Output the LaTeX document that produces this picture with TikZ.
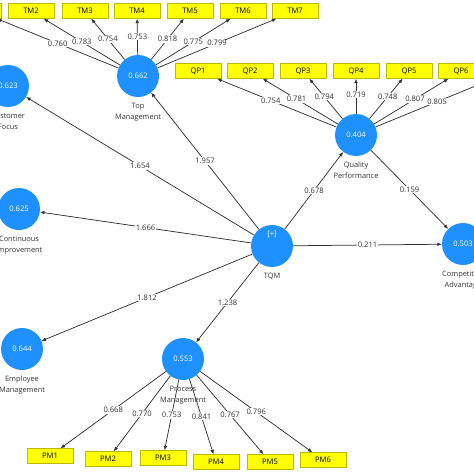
\documentclass[tikz,border=0pt]{standalone}
\usepackage{fontspec}
\setmainfont{Open Sans}
\usepackage{xcolor}
\usepackage{tikz}
\usetikzlibrary{arrows.meta}

\definecolor{plsblue}{RGB}{30,144,255}
\definecolor{plsyellow}{RGB}{255,255,0}
\definecolor{plsborder}{RGB}{185,185,0}
\definecolor{plsgray}{RGB}{50,50,50}

\tikzset{
  construct/.style = {circle, fill = plsblue, minimum size = 42pt,
    inner sep = 0pt, text = white, font = \fontsize{7.6}{8}\selectfont},
  conname/.style = {align = center, text = plsgray,
    font = \fontsize{7.4}{11}\selectfont},
  indicator/.style = {rectangle, draw = plsborder, fill = plsyellow,
    minimum width = 46pt, minimum height = 15pt, inner sep = 0pt,
    font = \fontsize{7.6}{9}\selectfont},
  relation/.style = {draw = plsgray, line width = 0.75pt,
    -{Latex[length = 4.5pt, width = 3.8pt]}},
  coef/.style = {fill = white, inner sep = 0.8pt, text = plsgray,
    font = \fontsize{7.6}{8}\selectfont}
}

\begin{document}
\begin{tikzpicture}[x = 1pt, y = -1pt, label distance = 2pt]
  \useasboundingbox (0,0) rectangle (474,474);
  \clip (0,0) rectangle (474,474);

  \node[construct, label = {[conname]below:{Top\\Management}}] (tm) at (138,76) {0.662};
  \node[construct, label = {[conname]below:{Customer\\Focus}}] (cf) at (8,86) {0.623};
  \node[construct, label = {[conname]below:{Continuous\\Improvement}}] (ci) at (19,209) {0.625};
  \node[construct, label = {[conname]below:{Employee\\Management}}] (em) at (22,349) {0.644};
  \node[construct, label = {[conname]below:{Process\\Management}}] (pm) at (183,359) {0.553};
  \node[construct, label = {[conname]below:{Quality\\Performance}}] (qp) at (356,135) {0.404};
  \node[construct, label = {[conname]below:{Competitive\\Advantage}}] (ca) at (463,244) {0.503};
  \node[construct, label = {[conname]below:TQM},
    label = {[coef, fill = none, text = white, yshift = 12pt]center:{[+]}}] (tqm) at (272,246) {};

  \foreach \i/\x in {1/-22, 2/31, 3/85, 4/137, 5/190, 6/243, 7/295}
    \node[indicator] (tm\i) at (\x,11) {TM\i};
  \foreach \i/\x in {1/198, 2/250, 3/303, 4/356, 5/409, 6/461}
    \node[indicator] (qp\i) at (\x,71) {QP\i};
  \coordinate (qp7) at (512,71);
  \foreach \i/\x/\y in {1/50/456, 2/108/459, 3/163/458, 4/216/462, 5/270/462, 6/323/460}
    \node[indicator] (pm\i) at (\x,\y) {PM\i};

  \draw[relation] (tqm) -- node[coef] {1.654} (cf);
  \draw[relation] (tqm) -- node[coef] {1.957} (tm);
  \draw[relation] (tqm) -- node[coef] {1.666} (ci);
  \draw[relation] (tqm) -- node[coef] {1.812} (em);
  \draw[relation] (tqm) -- node[coef] {1.238} (pm);
  \draw[relation] (tqm) -- node[coef] {0.678} (qp);
  \draw[relation] (tqm) -- node[coef] {0.211} (ca);
  \draw[relation] (qp) -- node[coef] {0.159} (ca);

  \foreach \i/\v in {1/0.760, 2/0.783, 3/0.754, 4/0.753, 5/0.818, 6/0.775, 7/0.799}
    \draw[relation] (tm) -- node[coef] {\v} (tm\i);
  \foreach \i/\v in {1/0.754, 2/0.781, 3/0.794, 4/0.719, 5/0.748, 6/0.807}
    \draw[relation] (qp) -- node[coef, pos = 0.55] {\v} (qp\i);
  \draw[relation] (qp) -- node[coef, pos = 0.45] {0.805} (qp7);
  \foreach \i/\v in {1/0.668, 2/0.770, 3/0.753, 4/0.841, 5/0.767, 6/0.796}
    \draw[relation] (pm) -- node[coef] {\v} (pm\i);
\end{tikzpicture}
\end{document}
